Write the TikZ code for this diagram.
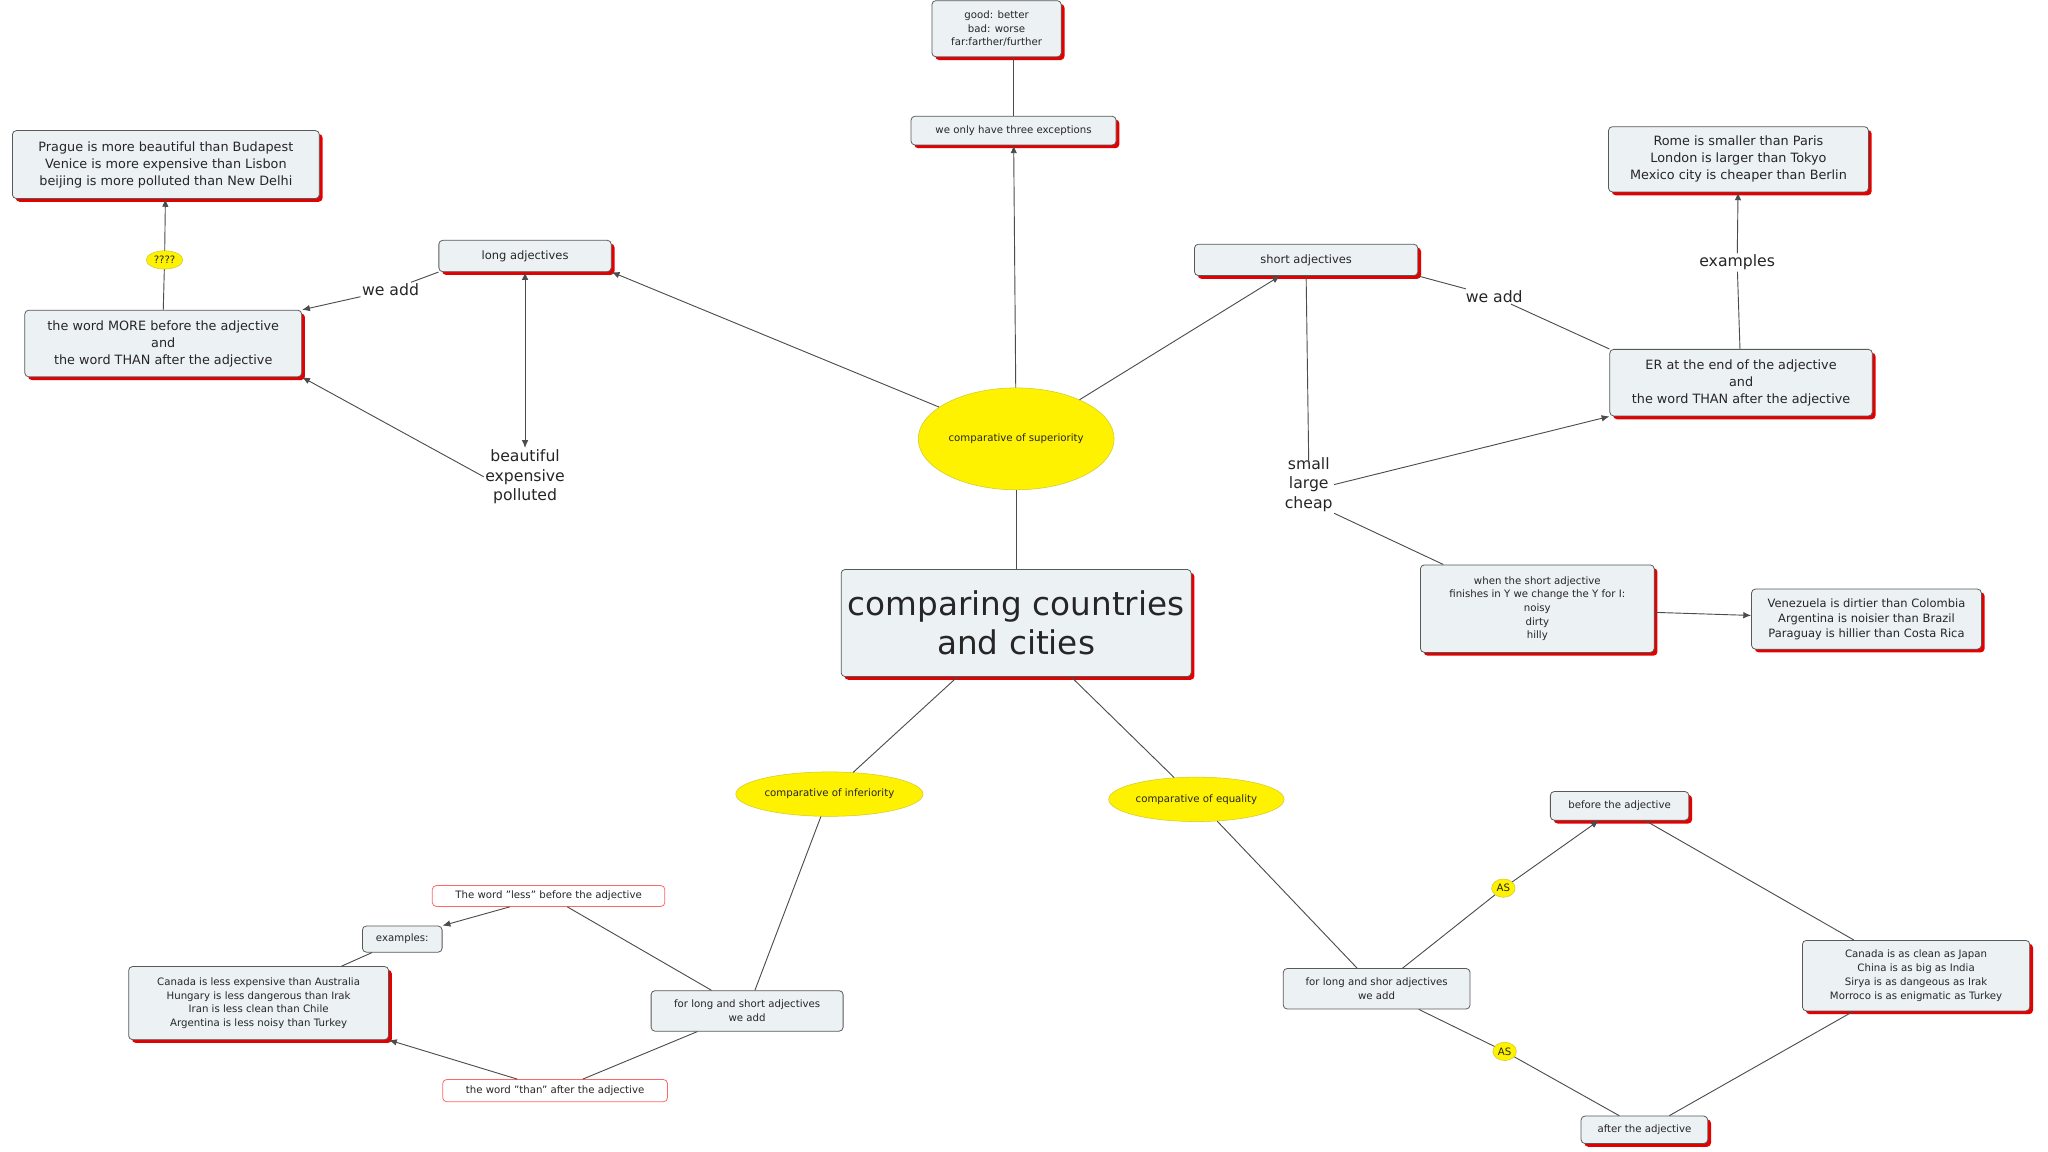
\documentclass[tikz,border=0pt]{standalone}
\usepackage{fontspec}
\setmainfont{DejaVu Sans}
\usetikzlibrary{shapes.geometric,shadows,arrows.meta}
\definecolor{boxfill}{RGB}{236,241,244}
\begin{document}
\begin{tikzpicture}[x=1pt,y=-1pt,
 base/.style={draw=gray!70!black,line width=0.6pt,rounded corners=3pt,fill=boxfill,align=center,inner sep=2pt,text=black!85},
 rbox/.style={base,drop shadow={fill=red!90!black,opacity=1,shadow xshift=2.5pt,shadow yshift=-2.5pt}},
 wbox/.style={draw=red!60,line width=0.6pt,rounded corners=3pt,fill=white,align=center,inner sep=2pt,text=black!85},
 yel/.style={ellipse,fill=yellow,draw=yellow!80!black,line width=0.4pt,inner sep=1pt,text=black!85},
 lbl/.style={align=center,font=\fontsize{12}{15}\selectfont,text=black!85,inner sep=1pt},
 fa/.style={font=\fontsize{7.8}{10.5}\selectfont},
 fb/.style={font=\fontsize{8.8}{11.5}\selectfont},
 fc/.style={font=\fontsize{9.8}{13}\selectfont},
 ln/.style={draw=black!70,line width=0.7pt},
 ar/.style={ln,-{Latex[length=6pt,width=5pt]}}
]
\useasboundingbox (0,0) rectangle (1568,882);
\fill[white] (0,0) rectangle (1568,882);
% nodes
\node[rbox,font=\fontsize{25}{30}\selectfont,minimum width=268pt,minimum height=82pt] (main) at (778,477) {comparing countries\\and cities};
\node[yel,fa,minimum width=150pt,minimum height=78pt] (sup) at (778,336) {comparative of superiority};
\node[rbox,fa,minimum width=99pt,minimum height=43pt] (good) at (763,22) {good: better\\bad: worse\\far:farther/further};
\node[rbox,fa,minimum width=157pt,minimum height=22pt] (exc) at (776,100) {we only have three exceptions};
\node[rbox,fc,minimum width=235pt,minimum height=52pt] (prague) at (127,126) {Prague is more beautiful than Budapest\\Venice is more expensive than Lisbon\\beijing is more polluted than New Delhi};
\node[yel,fa,minimum width=28pt,minimum height=14pt,inner sep=0pt] (q) at (126,199) {????};
\node[rbox,fc,minimum width=212pt,minimum height=51pt] (more) at (125,263) {the word MORE before the adjective\\and\\the word THAN after the adjective};
\node[rbox,fb,minimum width=132pt,minimum height=24pt] (long) at (402,196) {long adjectives};
\node[lbl] (weadd1) at (299,222) {we add};
\node[lbl] (beau) at (402,365) {beautiful\\expensive\\polluted};
\node[rbox,fb,minimum width=171pt,minimum height=24pt] (short) at (1000,199) {short adjectives};
\node[lbl] (weadd2) at (1144,227) {we add};
\node[rbox,fc,minimum width=199pt,minimum height=50pt] (rome) at (1331,122) {Rome is smaller than Paris\\London is larger than Tokyo\\Mexico city is cheaper than Berlin};
\node[lbl] (exl) at (1330,201) {examples};
\node[rbox,fc,minimum width=201pt,minimum height=51pt] (er) at (1333,293) {ER at the end of the adjective\\and\\the word THAN after the adjective};
\node[lbl] (slc) at (1002,371) {small\\large\\cheap};
\node[rbox,fa,minimum width=179pt,minimum height=67pt] (when) at (1177,466) {when the short adjective\\finishes in Y we change the Y for I:\\noisy\\dirty\\hilly};
\node[rbox,fb,minimum width=176pt,minimum height=46pt] (ven) at (1429,474) {Venezuela is dirtier than Colombia\\Argentina is noisier than Brazil\\Paraguay is hillier than Costa Rica};
\node[yel,fa,minimum width=124pt,minimum height=34pt] (inf) at (635,608) {comparative of inferiority};
\node[yel,fa,minimum width=118pt,minimum height=34pt] (equ) at (916,612) {comparative of equality};
\node[wbox,fa,minimum width=178pt,minimum height=16pt] (less) at (420,686) {The word "less" before the adjective};
\node[base,fa,minimum width=61pt,minimum height=20pt] (exs) at (308,719) {examples:};
\node[rbox,fa,minimum width=199pt,minimum height=56pt] (canl) at (198,768) {Canada is less expensive than Australia\\Hungary is less dangerous than Irak\\Iran is less clean than Chile\\Argentina is less noisy than Turkey};
\node[base,fa,minimum width=147pt,minimum height=31pt] (fl1) at (572,774) {for long and short adjectives\\we add};
\node[wbox,fa,minimum width=172pt,minimum height=17pt] (than) at (425,835) {the word "than" after the adjective};
\node[rbox,fa,minimum width=106pt,minimum height=22pt] (bef) at (1240,617) {before the adjective};
\node[yel,fa,minimum width=18pt,minimum height=14pt,inner sep=0pt] (as1) at (1151,680) {AS};
\node[yel,fa,minimum width=18pt,minimum height=14pt,inner sep=0pt] (as2) at (1152,805) {AS};
\node[base,fa,minimum width=143pt,minimum height=31pt] (fl2) at (1054,757) {for long and shor adjectives\\we add};
\node[rbox,fa,minimum width=174pt,minimum height=54pt] (cana) at (1467,747) {Canada is as clean as Japan\\China is as big as India\\Sirya is as dangeous as Irak\\Morroco is as enigmatic as Turkey};
\node[rbox,fa,minimum width=97pt,minimum height=21pt] (aft) at (1259,865) {after the adjective};
% connectors
\draw[ln] (main) -- (sup);
\draw[ar] (sup) -- (exc);
\draw[ln] (exc.north) -- (exc.north |- good.south);
\draw[ar] (sup) -- (long.south east);
\draw[ar] (sup) -- ([xshift=-20pt]short.south);
\draw[ln] (long.south west) -- (weadd1);
\draw[ar] (weadd1) -- (more.north east);
\draw[ln,{Latex[length=6pt,width=5pt]}-{Latex[length=6pt,width=5pt]}] (long) -- (beau);
\draw[ar] (beau.west) -- (more.south east);
\draw[ln] (more.north) -- (q);
\draw[ar] (q) -- (prague);
\draw[ln] (short.south east) -- (weadd2);
\draw[ln] (weadd2) -- (er.north west);
\draw[ln] (short.south) -- ([yshift=-6pt]slc.north);
\draw[ar] (slc.east) -- (er.south west);
\draw[ln] (slc.south east) -- (when);
\draw[ar] (when) -- (ven);
\draw[ln] (er) -- (exl);
\draw[ar] (exl) -- (rome);
\draw[ln] (main) -- (inf);
\draw[ln] (inf) -- (fl1);
\draw[ln] (fl1) -- (less);
\draw[ar] (less) -- (exs.north east);
\draw[ln] (exs) -- (canl);
\draw[ln] (fl1) -- (than);
\draw[ar] (than) -- (canl.south east);
\draw[ln] (main) -- (equ);
\draw[ln] (equ) -- (fl2);
\draw[ln] (fl2) -- (as1);
\draw[ar] (as1) -- (bef);
\draw[ln] (fl2) -- (as2);
\draw[ln] (as2) -- (aft);
\draw[ln] (bef) -- (cana);
\draw[ln] (aft) -- (cana);
\end{tikzpicture}
\end{document}
